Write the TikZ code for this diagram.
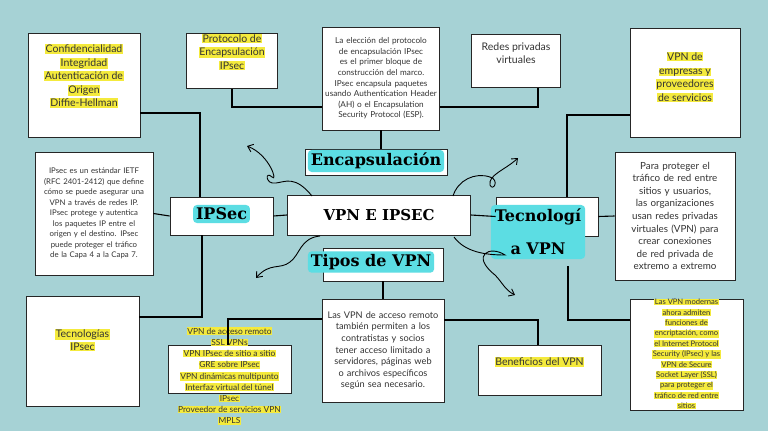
\documentclass[tikz,border=0pt]{standalone}
\usepackage{fontspec}
\setmainfont{Lato}
\newfontfamily\headfont{DejaVu Serif}
\usetikzlibrary{arrows.meta}
\definecolor{bg}{HTML}{A6D2D5}
\definecolor{cy}{HTML}{5CDDE3}
\definecolor{hly}{HTML}{F4EA3C}
\definecolor{txt}{HTML}{333333}
\newcommand{\hy}[1]{{\setlength{\fboxsep}{0.6pt}\colorbox{hly}{#1}}}
\tikzset{
  bx/.style={draw=black!85,fill=white,line width=0.9pt,inner sep=0pt},
  tx/.style={align=center,text=txt,execute at begin node={\hyphenpenalty=10000\exhyphenpenalty=10000}},
  hd/.style={fill=cy,rounded corners=4pt,inner sep=3pt,font=\headfont\bfseries\fontsize{16}{22}\selectfont,align=center},
  ln/.style={line width=1.1pt,black},
  cv/.style={line width=0.9pt,black,-{Straight Barb[length=5pt,width=8pt]}}
}
\begin{document}
\begin{tikzpicture}[x=1pt,y=-1pt]
\fill[bg] (0,0) rectangle (768,431);
\useasboundingbox (0,0) rectangle (768,431);
% boxes
\node[bx,minimum width=112,minimum height=104] (tl) at (84,85) {};
\node[tx,font=\fontsize{10.5}{13.5}\selectfont] at (84,76) {\hy{Confidencialidad}\\\hy{Integridad}\\\hy{Autenticación de}\\\hy{Origen}\\\hy{Diffie-Hellman}};
\node[bx,minimum width=91,minimum height=55] (prot) at (232,61) {};
\node[tx,font=\fontsize{10.5}{13.5}\selectfont] at (232,52) {\hy{Protocolo de}\\\hy{Encapsulación}\\\hy{IPsec}};
\node[bx,minimum width=117,minimum height=103,tx,font=\fontsize{8.2}{10.6}\selectfont,text width=112] (tc) at (381,78.5) {La elección del protocolo de encapsulación IPsec es el primer bloque de construcción del marco. IPsec encapsula paquetes usando Authentication Header (AH) o el Encapsulation Security Protocol (ESP).};
\node[bx,minimum width=89,minimum height=53] (red) at (516,61) {};
\node[tx,font=\fontsize{10.5}{13.5}\selectfont] at (516,53) {Redes privadas\\virtuales};
\node[bx,minimum width=110,minimum height=109] (emp) at (685,82.5) {};
\node[tx,font=\fontsize{10.5}{13.5}\selectfont] at (685,77) {\hy{VPN de}\\\hy{empresas y}\\\hy{proveedores}\\\hy{de servicios}};
\node[bx,minimum width=118,minimum height=123,tx,font=\fontsize{7.8}{10.5}\selectfont,text width=102] (lt) at (94,213.5) {IPsec es un estándar IETF (RFC 2401-2412) que define cómo se puede asegurar una VPN a través de redes IP. IPsec protege y autentica los paquetes IP entre el origen y el destino. IPsec puede proteger el tráfico de la Capa 4 a la Capa 7.};
\node[bx,minimum width=120,minimum height=128,tx,font=\fontsize{9.8}{12.6}\selectfont,text width=112] (rt) at (675,216) {Para proteger el tráfico de red entre sitios y usuarios, las organizaciones usan redes privadas virtuales (VPN) para crear conexiones de red privada de extremo a extremo};
\node[bx,minimum width=113,minimum height=110] (tip) at (82.5,351.5) {};
\node[tx,font=\fontsize{10.5}{13.5}\selectfont] at (82.5,340) {\hy{Tecnologías}\\\hy{IPsec}};
\node[bx,minimum width=123,minimum height=48] (tv) at (229.5,369) {};
\node[tx,font=\fontsize{8.4}{11.2}\selectfont] at (229.5,376) {\hy{VPN de acceso remoto}\\\hy{SSL VPNs}\\\hy{VPN IPsec de sitio a sitio}\\\hy{GRE sobre IPsec}\\\hy{VPN dinámicas multipunto}\\\hy{Interfaz virtual del túnel}\\\hy{IPsec}\\\hy{Proveedor de servicios VPN}\\\hy{MPLS}};
\node[bx,minimum width=122,minimum height=103,tx,font=\fontsize{9.2}{11.6}\selectfont,text width=112] (bc) at (383,350.5) {Las VPN de acceso remoto también permiten a los contratistas y socios tener acceso limitado a servidores, páginas web o archivos específicos según sea necesario.};
\node[bx,minimum width=123,minimum height=50] (ben) at (539.5,370) {};
\node[tx,font=\fontsize{10.5}{13.5}\selectfont] at (539.5,362) {\hy{Beneficios del VPN}};
\node[bx,minimum width=113,minimum height=111] (br) at (686.5,355) {};
\node[tx,font=\fontsize{7.6}{10.4}\selectfont] at (686.5,354) {\hy{Las VPN modernas}\\\hy{ahora admiten}\\\hy{funciones de}\\\hy{encriptación, como}\\\hy{el Internet Protocol}\\\hy{Security (IPsec) y las}\\\hy{VPN de Secure}\\\hy{Socket Layer (SSL)}\\\hy{para proteger el}\\\hy{tráfico de red entre}\\\hy{sitios}};
% centre and headings
\node[bx,minimum width=183,minimum height=40,font=\headfont\bfseries\fontsize{15}{18}\selectfont] (c) at (379,215) {VPN E IPSEC};
\node[bx,minimum width=103,minimum height=38] (ips) at (221.5,216) {};
\node[hd] at (221.5,214) {IPSec};
\node[bx,minimum width=142,minimum height=26] (enc) at (376,162) {};
\node[hd] at (376,161) {Encapsulación};
\node[bx,minimum width=120,minimum height=33] (tvh) at (383,264.5) {};
\node[hd] at (371,262) {Tipos de VPN};
\node[bx,minimum width=102,minimum height=39] (tec) at (547,216.5) {};
\node[hd,inner sep=4pt,font=\headfont\bfseries\fontsize{16}{33}\selectfont] at (538,232) {Tecnologí\\a VPN};
% connectors
\draw[ln] (ips.east) -- (c.west);
\draw[ln] (c.east) -- (tec.west);
\draw[ln] (ips.west) -- (lt.east);
\draw[ln] (tec.east) -- (rt.west);
\draw[ln] (tl.east |- 0,113) -| (ips.north -| 200,0);
\draw[ln] (ips.south -| 202,0) |- (tip.east |- 0,317);
\draw[ln] (prot.south) |- (tc.west |- 0,107);
\draw[ln] (red.south -| 538,0) |- (tc.east |- 0,107);
\draw[ln] (emp.west |- 0,115) -| (tec.north -| 567,0);
\draw[ln] (568,266) |- (br.west |- 0,320);
\draw[ln] (tc.south) -- (enc.north -| tc.south);
\draw[ln] (tvh.south) -- (bc.north);
\draw[ln] (tv.north -| 228,0) |- (bc.west |- 0,319);
\draw[ln] (bc.east |- 0,320) -| (ben.north -| 538,0);
% curly arrows
\draw[cv] (312,196) .. controls (295,175) and (285,182) .. (276,183) .. controls (265,185) and (265,170) .. (272,177) .. controls (278,183) and (270,155) .. (247,146);
\draw[cv] (320,236) .. controls (300,238) and (300,255) .. (290,262) .. controls (280,270) and (270,262) .. (256,278);
\draw[cv] (453,196) .. controls (458,180) and (475,172) .. (490,177) .. controls (500,180) and (493,192) .. (490,185) .. controls (488,175) and (505,170) .. (518,158);
\draw[cv] (454,237) .. controls (465,252) and (485,255) .. (505,255) .. controls (490,245) and (470,255) .. (495,275) .. controls (502,282) and (505,290) .. (515,295);
\end{tikzpicture}
\end{document}
